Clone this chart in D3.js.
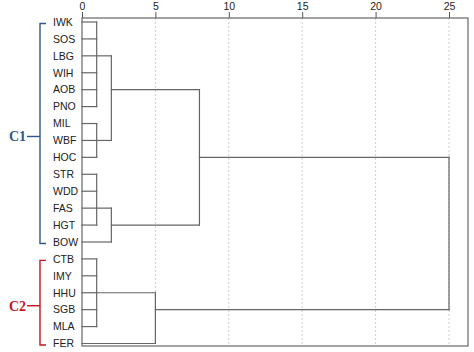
<!DOCTYPE html>
<html><head><meta charset="utf-8">
<script src="https://cdn.jsdelivr.net/npm/d3@7"></script>
<style>body{margin:0;background:#fff}svg{display:block}</style>
</head><body>
<script>
// ---- data ----
const leaves = ["IWK","SOS","LBG","WIH","AOB","PNO","MIL","WBF","HOC","STR","WDD","FAS","HGT","BOW","CTB","IMY","HHU","SGB","MLA","FER"];
const ticks = [0, 5, 10, 15, 20, 25];
// merges: id, children (leaf names or merge ids), rescaled distance, leaf row where the branch leaves
const mergeIds      = ["A","B","C","D","E","F","G","H","I"];
const mergeChildren = [
  ["IWK","SOS","LBG","WIH","AOB","PNO"],
  ["MIL","WBF","HOC"],
  ["STR","WDD","FAS","HGT"],
  ["CTB","IMY","HHU","SGB","MLA"],
  ["A","B"],
  ["C","BOW"],
  ["E","F"],
  ["D","FER"],
  ["G","H"]
];
const mergeHeights  = [1, 1, 1, 1, 2, 2, 8, 5, 25];
const mergeExitRow  = ["LBG","WBF","FAS","HHU","AOB","HGT","HOC","SGB",null];
const groupNames  = ["C1","C2"];
const groupFirst  = ["IWK","CTB"];
const groupLast   = ["BOW","FER"];
const groupColors = ["#2b5a8a","#c4161c"];

// ---- drawing ----
const W = 474, H = 352;
const svg = d3.select("body").append("svg").attr("width", W).attr("height", H);

const x = d3.scaleLinear().domain([0, 25]).range([82, 449]);
const y = d3.scalePoint().domain(leaves).range([22, 343.5]);
const plotTop = 18, plotBottom = 346, plotRight = 468;

// gridlines
svg.append("g").selectAll("line").data(ticks.filter(t => t > 0)).join("line")
  .attr("x1", d => x(d)).attr("x2", d => x(d))
  .attr("y1", plotTop).attr("y2", plotBottom)
  .attr("stroke", "#cfcfcf").attr("stroke-width", 1).attr("stroke-dasharray", "2,2");

// top axis
const axis = d3.axisTop(x).tickValues(ticks).tickSize(6).tickFormat(d3.format("d"));
const ag = svg.append("g").attr("transform", `translate(0,${plotTop})`).call(axis);
ag.select(".domain").remove();
ag.selectAll("line").attr("stroke", "#555");
ag.selectAll("text").attr("font-family", "Liberation Sans, Arial, sans-serif")
  .attr("font-size", 10.5).attr("fill", "#222").attr("dy", "0.1em");

// frame
svg.append("rect").attr("x", x(0)).attr("y", plotTop)
  .attr("width", plotRight - x(0)).attr("height", plotBottom - plotTop)
  .attr("fill", "none").attr("stroke", "#666").attr("stroke-width", 1.2);

// dendrogram
const pos = {};
leaves.forEach(l => pos[l] = {x: 0, y: y(l)});
const lines = [];
mergeIds.forEach((id, i) => {
  const h = mergeHeights[i];
  const ys = [];
  mergeChildren[i].forEach(c => {
    const p = pos[c];
    lines.push([p.x, p.y, h, p.y]);
    ys.push(p.y);
  });
  lines.push([h, d3.min(ys), h, d3.max(ys)]);
  pos[id] = {x: h, y: mergeExitRow[i] ? y(mergeExitRow[i]) : (d3.min(ys) + d3.max(ys)) / 2};
});
svg.append("g").selectAll("line").data(lines).join("line")
  .attr("x1", d => x(d[0])).attr("y1", d => d[1])
  .attr("x2", d => x(d[2])).attr("y2", d => d[3])
  .attr("stroke", "#666").attr("stroke-width", 1.2).attr("stroke-linecap", "square");

// leaf labels
svg.append("g").selectAll("text").data(leaves).join("text")
  .attr("x", 53).attr("y", d => y(d)).attr("dy", "0.36em")
  .attr("font-family", "Liberation Sans, Arial, sans-serif").attr("font-size", 10.5)
  .attr("fill", "#222").text(d => d);

// group brackets
groupNames.forEach((g, i) => {
  const y1 = y(groupFirst[i]) + 1.5, y2 = y(groupLast[i]) + 1.5;
  const ym = (y1 + y2) / 2;
  const c = groupColors[i];
  const gg = svg.append("g").attr("stroke", c).attr("stroke-width", 1.4).attr("fill", "none");
  gg.append("path").attr("d", `M46,${y1}H40V${y2}H46`);
  gg.append("line").attr("x1", 27).attr("x2", 40).attr("y1", ym + 3).attr("y2", ym + 3);
  svg.append("text").attr("x", 26).attr("y", ym + 8).attr("text-anchor", "end")
    .attr("font-family", "Liberation Serif, Times New Roman, serif").attr("font-weight", "bold")
    .attr("font-size", 14).attr("fill", c).text(g);
});
</script>
</body></html>
